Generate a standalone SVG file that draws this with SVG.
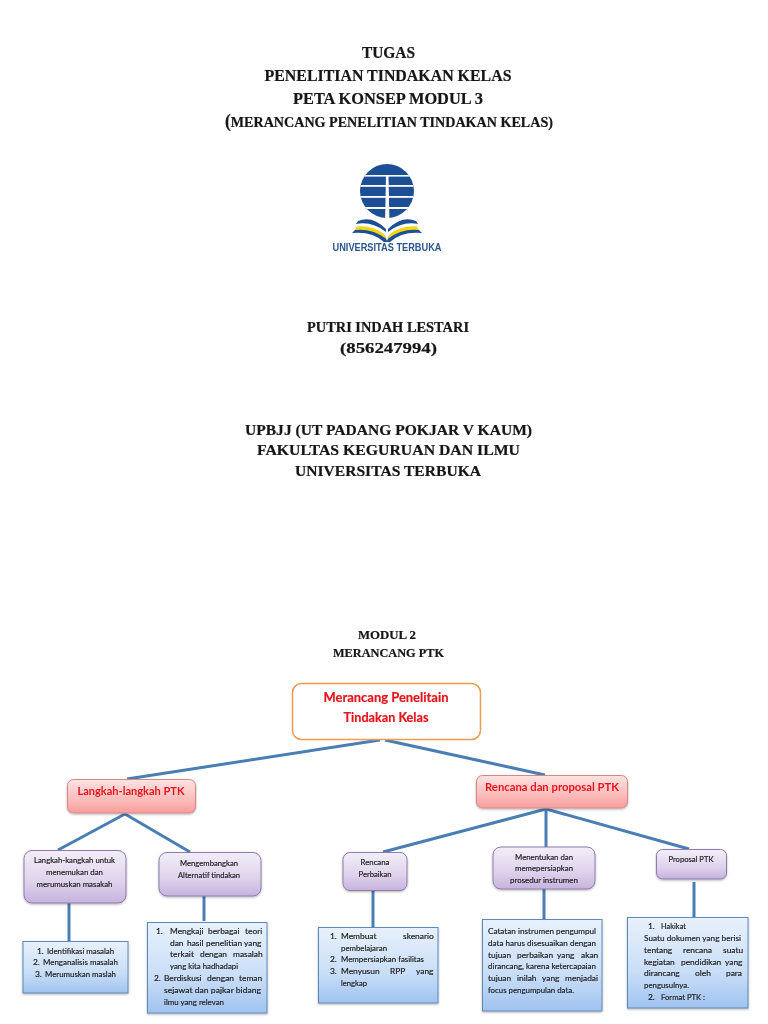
<svg xmlns="http://www.w3.org/2000/svg" width="768" height="1024" viewBox="0 0 768 1024">
<style>
.h{font-family:"Liberation Serif","DejaVu Serif",serif;font-weight:700;fill:#141414;stroke:#141414;stroke-width:.2px;text-anchor:middle}
.t{font-family:Lato,"Liberation Sans",sans-serif;font-size:8.4px;fill:#1c1c1c;stroke:#1c1c1c;stroke-width:.18px}
.c{text-anchor:middle}
.r{font-family:Lato,"Liberation Sans",sans-serif;font-weight:700;fill:#e8141c;text-anchor:middle}
.p{fill:url(#pg);stroke:#8e7cab;stroke-width:1;filter:url(#sh)}
.b{fill:url(#bg);stroke:#5f89b8;stroke-width:1;filter:url(#sh)}
.e{fill:url(#rg);stroke:#d18a88;stroke-width:1;filter:url(#sh)}
.l{stroke:#4a7eb5;stroke-width:3;fill:none;stroke-linecap:butt}
</style>
<defs>
<linearGradient id="pg" x1="0" y1="0" x2="0" y2="1"><stop offset="0" stop-color="#f3eef8"/><stop offset="0.6" stop-color="#dfd2ec"/><stop offset="1" stop-color="#c6b2dd"/></linearGradient>
<linearGradient id="bg" x1="0" y1="0" x2="0" y2="1"><stop offset="0" stop-color="#e8f1fc"/><stop offset="0.6" stop-color="#c9def7"/><stop offset="1" stop-color="#a0c3f0"/></linearGradient>
<linearGradient id="rg" x1="0" y1="0" x2="0" y2="1"><stop offset="0" stop-color="#fde3e2"/><stop offset="0.6" stop-color="#fbbcba"/><stop offset="1" stop-color="#f79d9b"/></linearGradient>
<filter id="sh" x="-10%" y="-10%" width="120%" height="125%"><feDropShadow dx="0" dy="1" stdDeviation="1" flood-color="#000" flood-opacity="0.3"/></filter>
<filter id="soft" x="0" y="0" width="768" height="1024" filterUnits="userSpaceOnUse"><feGaussianBlur stdDeviation="0.35"/></filter>
<clipPath id="cc"><circle cx="387" cy="191" r="27"/></clipPath>
</defs>
<rect width="768" height="1024" fill="#fff"/>

<g filter="url(#soft)">
<g id="title">
<text class="h" x="388.500" y="58" font-size="16.500" textLength="53" lengthAdjust="spacingAndGlyphs">TUGAS</text>
<text class="h" x="388" y="81" font-size="16.500" textLength="247" lengthAdjust="spacingAndGlyphs">PENELITIAN TINDAKAN KELAS</text>
<text class="h" x="388" y="104" font-size="16.500" textLength="190" lengthAdjust="spacingAndGlyphs">PETA KONSEP MODUL 3</text>
<text class="h" x="389" y="127" font-size="15.500" textLength="328" lengthAdjust="spacingAndGlyphs"><tspan font-size="19">(</tspan>MERANCANG PENELITIAN TINDAKAN KELAS)</text>
</g>

<g id="logo">
<g clip-path="url(#cc)">
<rect x="360" y="164" width="54" height="54" fill="#1d4f96"/>
<g fill="#fff">
<rect x="360" y="175" width="54" height="1.600"/>
<rect x="360" y="185" width="54" height="1.800"/>
<rect x="360" y="196" width="54" height="1.800"/>
<rect x="360" y="207" width="54" height="2"/>
</g>
</g>
<path d="M386 175 L388.500 175 L389.500 226 L385 226 Z" fill="#fff"/>
<path d="M358 221 Q372 215 386 229 L386 232 Q372 221 356 224 Z" fill="#1d4f96"/>
<path d="M416 221 Q402 215 388 229 L388 232 Q402 221 418 224 Z" fill="#1d4f96"/>
<path d="M355 230 Q372 224 385 236 L387 241 L389 236 Q402 224 419 230 L422 233 Q402 231 390 242 L384 242 Q372 231 352 233 Z" fill="#1d4f96"/>
<path d="M357 226.500 Q372 225 384 234 L386.500 239 Q372 228 355 230 Z" fill="#f4d615"/>
<path d="M417 226.500 Q402 225 390 234 L387.500 239 Q402 228 419 230 Z" fill="#f4d615"/>
<text x="387" y="250.500" font-family="'Liberation Sans',sans-serif" font-weight="700" font-size="10" fill="#2a5590" text-anchor="middle" textLength="109" lengthAdjust="spacingAndGlyphs">UNIVERSITAS TERBUKA</text>
</g>

<g id="author">
<text class="h" x="388" y="332" font-size="14.500" textLength="162" lengthAdjust="spacingAndGlyphs">PUTRI INDAH LESTARI</text>
<text class="h" x="388.500" y="353" font-size="15.500" textLength="97" lengthAdjust="spacingAndGlyphs">(856247994)</text>
<text class="h" x="388.500" y="435" font-size="15.500" textLength="287" lengthAdjust="spacingAndGlyphs">UPBJJ (UT PADANG POKJAR V KAUM)</text>
<text class="h" x="388.500" y="455" font-size="15.500" textLength="263" lengthAdjust="spacingAndGlyphs">FAKULTAS KEGURUAN DAN ILMU</text>
<text class="h" x="388" y="476" font-size="15.500" textLength="186" lengthAdjust="spacingAndGlyphs">UNIVERSITAS TERBUKA</text>
<text class="h" x="387" y="639" font-size="12.500" textLength="58" lengthAdjust="spacingAndGlyphs">MODUL 2</text>
<text class="h" x="388.500" y="657" font-size="12.500" textLength="111" lengthAdjust="spacingAndGlyphs">MERANCANG PTK</text>
</g>

<g id="connectors">
<path class="l" d="M380 740 L127 779"/>
<path class="l" d="M385 740 L545 775"/>
<path class="l" d="M125 814 L58 850"/>
<path class="l" d="M125 814 L190 852"/>
<path class="l" d="M546 809 L383 852"/>
<path class="l" d="M546 809 L546 847"/>
<path class="l" d="M546 809 L689 849"/>
<path class="l" d="M69 903 L69 941"/>
<path class="l" d="M204 896 L204 921"/>
<path class="l" d="M373 890 L373 927"/>
<path class="l" d="M544 889 L544 922"/>
<path class="l" d="M694 882 L694 920"/>
</g>

<g id="root">
<rect x="292.500" y="683.500" width="188" height="56" rx="9" fill="#fff" stroke="#ec9b4f" stroke-width="1.500"/>
<text class="r" x="386" y="702" font-size="12.500" textLength="125" lengthAdjust="spacingAndGlyphs" stroke="#e8141c" stroke-width=".2">Merancang Penelitain</text>
<text class="r" x="386" y="722" font-size="12.500" textLength="85" lengthAdjust="spacingAndGlyphs" stroke="#e8141c" stroke-width=".2">Tindakan Kelas</text>
</g>

<g id="langkah">
<rect class="e" x="67.500" y="779.500" width="128" height="33.500" rx="6"/>
<text class="r" x="131" y="795" font-size="10.500" textLength="107" lengthAdjust="spacingAndGlyphs">Langkah-langkah PTK</text>
</g>
<g id="rencana">
<rect class="e" x="476.500" y="775.500" width="151" height="32.500" rx="6"/>
<text class="r" x="552" y="791" font-size="10.500" textLength="134" lengthAdjust="spacingAndGlyphs">Rencana dan proposal PTK</text>
</g>

<g id="n1">
<rect class="p" x="24" y="850.500" width="102" height="52.500" rx="8"/>
<text class="t c" x="74.500" y="863" textLength="81" lengthAdjust="spacingAndGlyphs">Langkah-kangkah untuk</text>
<text class="t c" x="74.500" y="875" textLength="57" lengthAdjust="spacingAndGlyphs">menemukan dan</text>
<text class="t c" x="74.500" y="887" textLength="76" lengthAdjust="spacingAndGlyphs">merumuskan masakah</text>
</g>
<g id="n2">
<rect class="p" x="159" y="852.500" width="102" height="43.500" rx="8"/>
<text class="t c" x="209" y="866" textLength="58" lengthAdjust="spacingAndGlyphs">Mengembangkan</text>
<text class="t c" x="209" y="878" textLength="62" lengthAdjust="spacingAndGlyphs">Alternatif tindakan</text>
</g>
<g id="n3">
<rect class="p" x="343" y="852.500" width="64" height="38" rx="7"/>
<text class="t c" x="375" y="865" textLength="29" lengthAdjust="spacingAndGlyphs">Rencana</text>
<text class="t c" x="375" y="877" textLength="33" lengthAdjust="spacingAndGlyphs">Perbaikan</text>
</g>
<g id="n4">
<rect class="p" x="493" y="847" width="102" height="42" rx="8"/>
<text class="t c" x="544" y="860" textLength="58" lengthAdjust="spacingAndGlyphs">Menentukan dan</text>
<text class="t c" x="544" y="871" textLength="58" lengthAdjust="spacingAndGlyphs">memepersiapkan</text>
<text class="t c" x="544" y="883" textLength="68" lengthAdjust="spacingAndGlyphs">prosedur instrumen</text>
</g>
<g id="n5">
<rect class="p" x="656.500" y="849.500" width="70" height="29.500" rx="6"/>
<text class="t c" x="691" y="862" textLength="45" lengthAdjust="spacingAndGlyphs">Proposal PTK</text>
</g>

<g id="b1">
<rect class="b" x="23" y="941.500" width="105" height="51.500"/>
<text class="t" x="37" y="954">1.</text><text class="t" x="47" y="954" textLength="67" lengthAdjust="spacingAndGlyphs">Identifikasi masalah</text>
<text class="t" x="33" y="965">2.</text><text class="t" x="43" y="965" textLength="75" lengthAdjust="spacingAndGlyphs">Menganalisis masalah</text>
<text class="t" x="35" y="977">3.</text><text class="t" x="45" y="977" textLength="71" lengthAdjust="spacingAndGlyphs">Merumuskan maslah</text>
</g>
<g id="b2">
<rect class="b" x="147.500" y="922.500" width="119.500" height="90.500"/>
<text class="t" x="156" y="934">1.</text>
<text class="t" y="934"><tspan x="170">Mengkaji</tspan> <tspan x="208">berbagai</tspan> <tspan x="245">teori</tspan></text>
<text class="t" y="946"><tspan x="170">dan</tspan> <tspan x="187">hasil</tspan> <tspan x="206">penelitian</tspan> <tspan x="244">yang</tspan></text>
<text class="t" y="957"><tspan x="170">terkait</tspan> <tspan x="200">dengan</tspan> <tspan x="233">masalah</tspan></text>
<text class="t" x="170" y="969" textLength="68" lengthAdjust="spacingAndGlyphs">yang kita hadhadapi</text>
<text class="t" x="154" y="981">2.</text>
<text class="t" y="981"><tspan x="164">Berdiskusi</tspan> <tspan x="207">dengan</tspan> <tspan x="239">teman</tspan></text>
<text class="t" x="164" y="993" textLength="97" lengthAdjust="spacingAndGlyphs">sejawat dan pajkar bidang</text>
<text class="t" x="164" y="1005" textLength="60" lengthAdjust="spacingAndGlyphs">ilmu yang relevan</text>
</g>
<g id="b3">
<rect class="b" x="318.500" y="927.500" width="119.500" height="75.500"/>
<text class="t" x="330" y="939">1.</text>
<text class="t" y="939"><tspan x="341">Membuat</tspan> <tspan x="403">skenario</tspan></text>
<text class="t" x="341" y="951" textLength="46" lengthAdjust="spacingAndGlyphs">pembelajaran</text>
<text class="t" x="330" y="962">2.</text>
<text class="t" x="341" y="962" textLength="83" lengthAdjust="spacingAndGlyphs">Mempersiapkan fasilitas</text>
<text class="t" x="330" y="974">3.</text>
<text class="t" y="974"><tspan x="341">Menyusun</tspan> <tspan x="390">RPP</tspan> <tspan x="416">yang</tspan></text>
<text class="t" x="341" y="986" textLength="26" lengthAdjust="spacingAndGlyphs">lengkap</text>
</g>
<g id="b4">
<rect class="b" x="482.500" y="919.500" width="119.500" height="91.500"/>
<text class="t" x="488" y="934" textLength="108" lengthAdjust="spacingAndGlyphs">Catatan instrumen pengumpul</text>
<text class="t" x="488" y="946" textLength="108" lengthAdjust="spacingAndGlyphs">data harus disesuaikan dengan</text>
<text class="t" y="958"><tspan x="488">tujuan</tspan> <tspan x="517">perbaikan</tspan> <tspan x="557">yang</tspan> <tspan x="581">akan</tspan></text>
<text class="t" x="488" y="969" textLength="108" lengthAdjust="spacingAndGlyphs">dirancang, karena ketercapaian</text>
<text class="t" y="981"><tspan x="488">tujuan</tspan> <tspan x="517">inilah</tspan> <tspan x="542">yang</tspan> <tspan x="565">menjadai</tspan></text>
<text class="t" x="488" y="993" textLength="86" lengthAdjust="spacingAndGlyphs">focus pengumpulan data.</text>
</g>
<g id="b5">
<rect class="b" x="627.500" y="917.500" width="120.500" height="90.500"/>
<text class="t" x="648" y="929">1.</text>
<text class="t" x="661" y="929" textLength="25" lengthAdjust="spacingAndGlyphs">Hakikat</text>
<text class="t" x="644" y="941" textLength="97" lengthAdjust="spacingAndGlyphs">Suatu dokumen yang berisi</text>
<text class="t" y="953"><tspan x="644">tentang</tspan> <tspan x="683">rencana</tspan> <tspan x="723">suatu</tspan></text>
<text class="t" y="965"><tspan x="644">kegiatan</tspan> <tspan x="681">pendidikan</tspan> <tspan x="725">yang</tspan></text>
<text class="t" y="976"><tspan x="644">dirancang</tspan> <tspan x="695">oleh</tspan> <tspan x="726">para</tspan></text>
<text class="t" x="644" y="988" textLength="45" lengthAdjust="spacingAndGlyphs">pengusulnya.</text>
<text class="t" x="648" y="1000">2.</text>
<text class="t" x="661" y="1000" textLength="44" lengthAdjust="spacingAndGlyphs">Format PTK :</text>
</g>
</g>
</svg>
